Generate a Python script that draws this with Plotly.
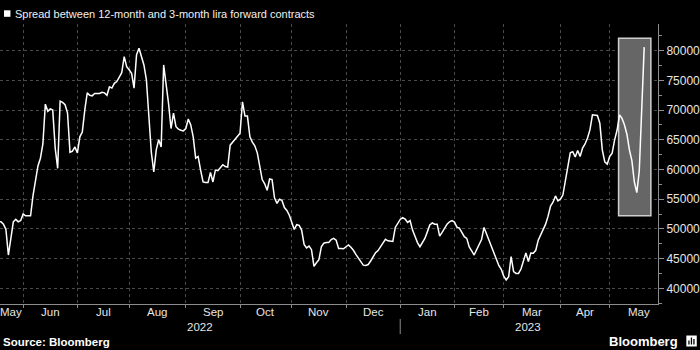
import pandas as pd
import plotly.graph_objects as go

# ---- data: daily (business-day) spread, May 18 2022 - May 19 2023 ----
may22 = [51200, 51200, 50800, 49900, 45600, 48100, 51200, 51600, 51200, 51400]
jun22 = [52500, 52200, 52200, 52200, 55600, 58200, 60600, 61900, 64300, 71000, 69800,
         70200, 70000, 63600, 60200, 71500, 71300, 70900, 69500, 62900, 63100, 63800]
jul22 = [62800, 65500, 66300, 70000, 72900, 72500, 72400, 72800, 72800, 72800, 73000,
         72900, 72500, 73900, 73700, 74500, 74800, 75600, 76300, 79000, 77300]
aug22 = [76800, 76200, 73700, 79300, 80400, 79000, 77600, 75100, 68900, 62900, 59600,
         63300, 65000, 63800, 77600, 74500, 71100, 66900, 69500, 67200, 66800, 66600, 66500]
sep22 = [66900, 68500, 67500, 65500, 61900, 62200, 59900, 57900, 57800, 57800, 59500,
         57900, 59900, 59800, 60300, 60800, 60500, 60400, 64100, 64600, 65000, 65500]
oct22 = [66100, 71400, 69000, 69000, 65500, 64600, 64000, 62800, 60600, 58300, 57600,
         56500, 58400, 58300, 55200, 54300, 55000, 54800, 53600, 53100, 52300]
nov22 = [50900, 49900, 50700, 50600, 49800, 47400, 46800, 47100, 46500, 43700, 44300,
         44800, 47000, 47600, 47700, 47700, 48200, 48400, 48100, 46700, 46700, 46650]
dec22 = [47000, 47300, 46900, 46400, 45700, 45100, 44700, 43900, 43850, 44000, 44600,
         45300, 46000, 46350, 46950, 47450, 48250, 48000, 47900, 47900, 50250, 50900]
jan23 = [51600, 51900, 51650, 51100, 51400, 49800, 48550, 47700, 47000, 47600, 48400,
         49500, 50650, 51000, 50800, 50800, 48800, 49400, 50150, 50800, 51200, 51400]
feb23 = [51150, 50300, 50150, 49300, 48700, 48400, 46950, 46300, 45600, 46500, 47300,
         48200, 50250, 49150, 47900, 46900, 45950, 44850, 43850, 43200]
mar23 = [42050, 41400, 41950, 45350, 42800, 42500, 42500, 43250, 44750, 45950, 44500,
         45950, 45900, 46400, 48100, 48950, 49800, 50800, 52150, 53850, 54500, 55550, 54700]
apr23 = [55000, 55700, 57900, 60600, 62800, 63000, 62100, 63200, 62200, 63600, 64300,
         65300, 66700, 69200, 69200, 69100, 67800, 63300, 61300, 60900]
may23 = [62200, 62750, 65000, 66650, 69200, 68600, 67500, 65900, 63300, 61500, 57900,
         56100, 59750, 70500, 80600]

spread = (may22 + jun22 + jul22 + aug22 + sep22 + oct22 + nov22 + dec22
          + jan23 + feb23 + mar23 + apr23 + may23)
dates = pd.bdate_range("2022-05-18", "2023-05-19")[:len(spread)]

month_labels = ["May", "Jun", "Jul", "Aug", "Sep", "Oct", "Nov", "Dec",
                "Jan", "Feb", "Mar", "Apr", "May"]
label_dates = ["2022-05-25 06:00", "2022-06-16", "2022-07-15 12:00", "2022-08-16 12:00",
               "2022-09-16", "2022-10-17 12:00", "2022-11-16", "2022-12-16",
               "2023-01-17", "2023-02-15", "2023-03-16 12:00", "2023-04-17", "2023-05-17"]
month_starts = ["2022-06-01", "2022-07-01", "2022-08-01", "2022-09-01", "2022-10-03",
                "2022-11-01", "2022-12-01", "2023-01-02", "2023-02-01", "2023-03-01",
                "2023-04-03", "2023-05-01"]
years = ["2022", "2023"]

# ---- geometry ----
W, H = 700, 350
ML, MR, MT, MB = 0, 38, 24, 46
PW, PH = W - ML - MR, H - MT - MB


def px(x):
    return (x - ML) / PW


def py(y):
    return (H - MB - y) / PH


FONT = "Liberation Sans, Arial, sans-serif"
GRID = "#4a4a4a"
AXIS = "#8c8c8c"
TXT = "#e6e6e6"

fig = go.Figure()
fig.add_trace(go.Scatter(x=dates, y=spread, mode="lines",
                         line=dict(color="#ffffff", width=1.5), hoverinfo="x+y",
                         showlegend=False))

fig.update_layout(
    width=W, height=H,
    margin=dict(l=ML, r=MR, t=MT, b=MB, pad=0),
    paper_bgcolor="#000000", plot_bgcolor="#000000",
    font=dict(family=FONT, color=TXT, size=12),
    showlegend=False,
)

fig.update_xaxes(
    type="date",
    range=["2022-05-18 14:24", "2023-05-26 14:24"],
    rangebreaks=[dict(bounds=["sat", "mon"])],
    tickmode="array", tickvals=month_starts, showticklabels=False,
    ticks="outside", ticklen=3, tickcolor=AXIS,
    showgrid=True, gridcolor=GRID, griddash="dot", gridwidth=1,
    showline=True, linecolor=AXIS, linewidth=1,
    zeroline=False,
)

fig.update_yaxes(
    side="right", range=[37357, 84495],
    tickmode="linear", tick0=40000, dtick=5000, tickformat="d",
    ticks="outside", ticklen=5, tickcolor=AXIS,
    showgrid=True, gridcolor=GRID, griddash="dot", gridwidth=1,
    showline=True, linecolor=AXIS, linewidth=1, zeroline=False,
    tickfont=dict(size=12, color=TXT, family=FONT),
    minor=dict(dtick=2500, ticks="outside", ticklen=3, tickcolor=AXIS, showgrid=False),
)

shapes = [
    # highlight box
    dict(type="rect", xref="x", yref="y", x0="2023-05-04 14:24", x1="2023-05-23 17:00",
         y0=52200, y1=82100, fillcolor="#666666", line=dict(color="#cfcfcf", width=1.5),
         layer="between"),
    # year divider
    dict(type="line", xref="x", yref="paper", x0="2023-01-02", x1="2023-01-02",
         y0=py(319), y1=py(334), line=dict(color=AXIS, width=1)),
    # legend square
    dict(type="rect", xref="paper", yref="paper", x0=px(4), x1=px(10.5),
         y0=py(16.8), y1=py(10.3), fillcolor="#ffffff", line=dict(width=0)),
    # bloomberg icon
    dict(type="rect", xref="paper", yref="paper", x0=px(690.5), x1=px(701),
         y0=py(346.5), y1=py(335.5), fillcolor="#ffffff", line=dict(width=0)),
    dict(type="rect", xref="paper", yref="paper", x0=px(692.5), x1=px(693.8),
         y0=py(344.5), y1=py(340.5), fillcolor="#000000", line=dict(width=0)),
    dict(type="rect", xref="paper", yref="paper", x0=px(695), x1=px(696.3),
         y0=py(344.5), y1=py(337.5), fillcolor="#000000", line=dict(width=0)),
    dict(type="rect", xref="paper", yref="paper", x0=px(697.5), x1=px(698.8),
         y0=py(344.5), y1=py(339), fillcolor="#000000", line=dict(width=0)),
]
fig.update_layout(shapes=shapes)

ann = [
    dict(text="Spread between 12-month and 3-month lira forward contracts",
         xref="paper", yref="paper", x=px(13.5), y=py(13.8), xanchor="left",
         yanchor="middle", showarrow=False, font=dict(size=11, color="#f0f0f0", family=FONT)),
    dict(text=years[0], xref="paper", yref="paper", x=px(201), y=py(327),
         xanchor="center", yanchor="middle", showarrow=False,
         font=dict(size=11.5, color=TXT, family=FONT)),
    dict(text=years[1], xref="paper", yref="paper", x=px(531.5), y=py(327),
         xanchor="center", yanchor="middle", showarrow=False,
         font=dict(size=11.5, color=TXT, family=FONT)),
    dict(text="<b>Source: Bloomberg</b>", xref="paper", yref="paper", x=px(1.5),
         y=py(342.3), xanchor="left", yanchor="middle", showarrow=False,
         font=dict(size=11.5, color="#ffffff", family=FONT)),
    dict(text="<b>Bloomberg</b>", xref="paper", yref="paper", x=px(684.5),
         y=py(341), xanchor="right", yanchor="middle", showarrow=False,
         font=dict(size=13, color="#ffffff", family=FONT)),
]
for lab, d in zip(month_labels, label_dates):
    ann.append(dict(text=lab, xref="x", yref="paper", x=d, y=py(312.5),
                    xanchor="center", yanchor="middle", showarrow=False,
                    font=dict(size=11.5, color=TXT, family=FONT)))
fig.update_layout(annotations=ann)

fig.write_html("out.html")
